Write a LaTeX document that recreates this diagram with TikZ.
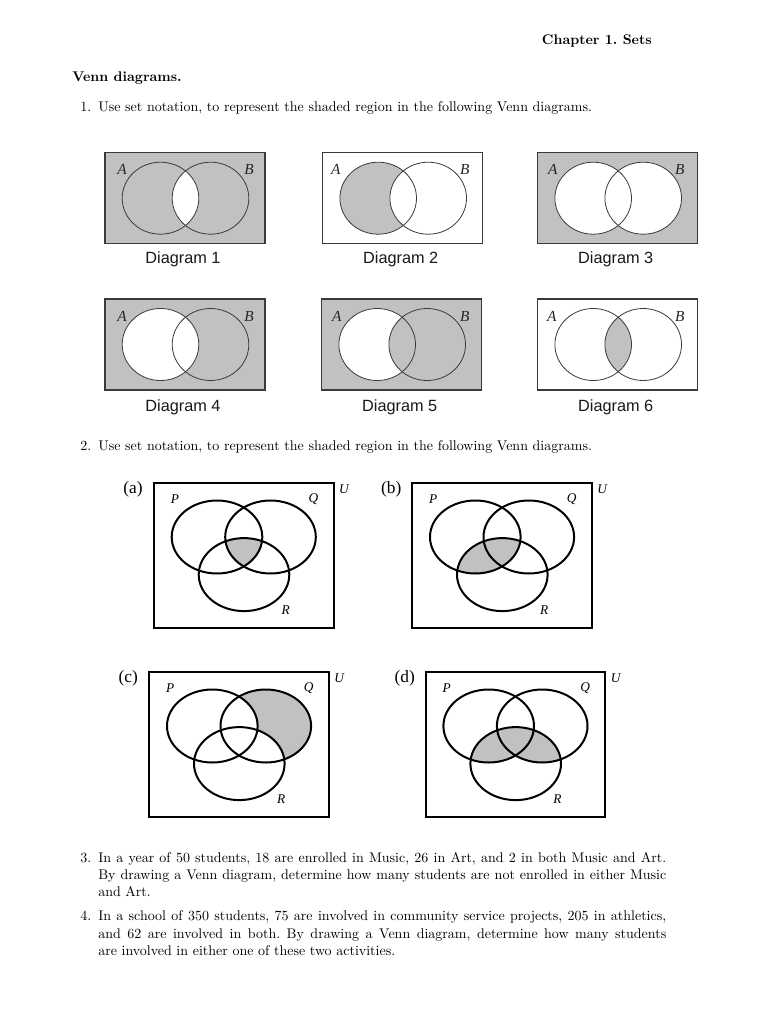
\documentclass[tikz,border=0pt]{standalone}
\usepackage{fontspec}
\newfontfamily\sansf{Liberation Sans}
\newfontfamily\serff{Liberation Serif}
\definecolor{shadegray}{HTML}{C1C1C1}
\definecolor{darkline}{HTML}{3A3A3A}
\tikzset{
  venntwo/.style={draw=darkline, line width=0.6pt},
  boxtwo/.style={draw=darkline, line width=0.9pt},
  vennthree/.style={draw=black, line width=1.5pt},
  boxthree/.style={draw=black, line width=1.5pt},
  setlabA/.style={font=\serff\itshape\fontsize{11.5}{13}\selectfont, text=black!85, inner sep=0pt},
  setlabP/.style={font=\serff\itshape\fontsize{10}{12}\selectfont, inner sep=0pt},
  tagstyle/.style={font=\serff\fontsize{13}{15}\selectfont, inner sep=0pt},
  diaglab/.style={font=\sansf\fontsize{12.2}{14}\selectfont, text=black!90, inner sep=0pt},
  body/.style={font=\fontsize{10.5}{12.75}\selectfont, inner sep=0pt},
}
% two-set shapes: x0 y0 options
\newcommand\twoA[3]{\path[#3] ({#1+55.5},{#2+45.5}) ellipse [x radius=38.3, y radius=36];}
\newcommand\twoB[3]{\path[#3] ({#1+105.5},{#2+45.5}) ellipse [x radius=38.3, y radius=36];}
\newcommand\twoU[3]{\path[#3] (#1,#2) rectangle ({#1+160},{#2+91});}
% frame: x0 y0 name Aoff Boff caption captionbaseline
\newcommand\twoframe[7]{%
  \twoU{#1}{#2}{boxtwo}
  \twoA{#1}{#2}{venntwo}
  \twoB{#1}{#2}{venntwo}
  \node[setlabA] (#3A) at ({#1+#4},{#2+17}) {A};
  \node[setlabA] (#3B) at ({#1+#5},{#2+17}) {B};
  \node[diaglab, anchor=base] (#3cap) at ({#1+78},#7) {#6};
}
% three-set shapes
\newcommand\thrP[3]{\path[#3] ({#1+63},{#2+53.7}) ellipse [x radius=45.3, y radius=36.5];}
\newcommand\thrQ[3]{\path[#3] ({#1+116.5},{#2+53.7}) ellipse [x radius=45.3, y radius=36.5];}
\newcommand\thrR[3]{\path[#3] ({#1+90},{#2+91.3}) ellipse [x radius=45.3, y radius=36.5];}
\newcommand\thrframe[4]{%
  \path[boxthree] (#1,#2) rectangle ({#1+179.7},{#2+144.7});
  \thrP{#1}{#2}{vennthree}
  \thrQ{#1}{#2}{vennthree}
  \thrR{#1}{#2}{vennthree}
  \node[setlabP] (#3P) at ({#1+21},{#2+16}) {P};
  \node[setlabP] (#3Q) at ({#1+159.5},{#2+16}) {Q};
  \node[setlabP] (#3R) at ({#1+131.8},{#2+127}) {R};
  \node[setlabP] (#3U) at ({#1+190},{#2+6}) {U};
  \node[tagstyle] (#3tag) at ({#1-21},{#2+6}) {#4};
}
\begin{document}
\frenchspacing
\begin{tikzpicture}[x=0.75pt,y=-0.75pt]
\fill[white] (0,0) rectangle (768,1024);
\useasboundingbox (0,0) rectangle (768,1024);

% ---------- text ----------
\node[body, anchor=base east] (chap) at (652,45) {\bfseries Chapter 1.\ Sets};
\node[body, anchor=base west] (sec) at (72,82) {\bfseries Venn diagrams.};
\node[body, anchor=base west] (n1) at (80,112) {1.};
\node[body, anchor=base west] (t1) at (98,112) {Use set notation, to represent the shaded region in the following Venn diagrams.};
\node[body, anchor=base west] (n2) at (80,450) {2.};
\node[body, anchor=base west] (t2) at (98,450) {Use set notation, to represent the shaded region in the following Venn diagrams.};

\node[body, anchor=base west] (n3) at (80,862) {3.};
\node[body, anchor=base west] (t3a) at (98,862) {\makebox[426pt][s]{In a year of 50 students, 18 are enrolled in Music, 26 in Art, and 2 in both Music and Art.}};
\node[body, anchor=base west] (t3b) at (98,879) {\makebox[426pt][s]{By drawing a Venn diagram, determine how many students are not enrolled in either Music}};
\node[body, anchor=base west] (t3c) at (98,896) {and Art.};

\node[body, anchor=base west] (n4) at (80,920) {4.};
\node[body, anchor=base west] (t4a) at (98,920) {\makebox[426pt][s]{In a school of 350 students, 75 are involved in community service projects, 205 in athletics,}};
\node[body, anchor=base west] (t4b) at (98,938) {\makebox[426pt][s]{and 62 are involved in both. By drawing a Venn diagram, determine how many students}};
\node[body, anchor=base west] (t4c) at (98,955) {are involved in either one of these two activities.};

% ---------- two-set diagrams ----------
% Diagram 1: complement of intersection
\twoU{105}{152.7}{fill=shadegray}
\begin{scope}
  \twoA{105}{152.7}{clip}
  \twoB{105}{152.7}{fill=white}
\end{scope}
\twoframe{105}{152.7}{d1}{17}{144}{Diagram 1}{263}

% Diagram 2: A only
\twoA{322.7}{152.7}{fill=shadegray}
\twoB{322.7}{152.7}{fill=white}
\twoframe{322.7}{152.7}{d2}{13}{142}{Diagram 2}{263}

% Diagram 3: complement of union
\twoU{537.7}{152.7}{fill=shadegray}
\twoA{537.7}{152.7}{fill=white}
\twoB{537.7}{152.7}{fill=white}
\twoframe{537.7}{152.7}{d3}{15}{142}{Diagram 3}{263}

% Diagram 4: complement of A
\twoU{105}{299}{fill=shadegray}
\twoA{105}{299}{fill=white}
\twoframe{105}{299}{d4}{17}{144}{Diagram 4}{411}

% Diagram 5: complement of A only
\twoU{321.7}{299}{fill=shadegray}
\twoA{321.7}{299}{fill=white}
\twoB{321.7}{299}{fill=shadegray}
\twoframe{321.7}{299}{d5}{15}{143}{Diagram 5}{411}

% Diagram 6: intersection
\begin{scope}
  \twoA{537.7}{299}{clip}
  \twoB{537.7}{299}{fill=shadegray}
\end{scope}
\twoframe{537.7}{299}{d6}{14}{142}{Diagram 6}{411}

% ---------- three-set diagrams ----------
% (a) P n Q n R
\begin{scope}
  \thrP{154}{483.3}{clip}
  \thrQ{154}{483.3}{clip}
  \thrR{154}{483.3}{fill=shadegray}
\end{scope}
\thrframe{154}{483.3}{va}{(a)}

% (b) P n R
\begin{scope}
  \thrP{412.3}{483.3}{clip}
  \thrR{412.3}{483.3}{fill=shadegray}
\end{scope}
\thrframe{412.3}{483.3}{vb}{(b)}

% (c) Q only
\thrQ{149.3}{672.3}{fill=shadegray}
\thrP{149.3}{672.3}{fill=white}
\thrR{149.3}{672.3}{fill=white}
\thrframe{149.3}{672.3}{vc}{(c)}

% (d) R n (P u Q)
\begin{scope}
  \thrR{425.7}{672.3}{clip}
  \thrP{425.7}{672.3}{fill=shadegray}
  \thrQ{425.7}{672.3}{fill=shadegray}
\end{scope}
\thrframe{425.7}{672.3}{vd}{(d)}
\end{tikzpicture}
\end{document}
